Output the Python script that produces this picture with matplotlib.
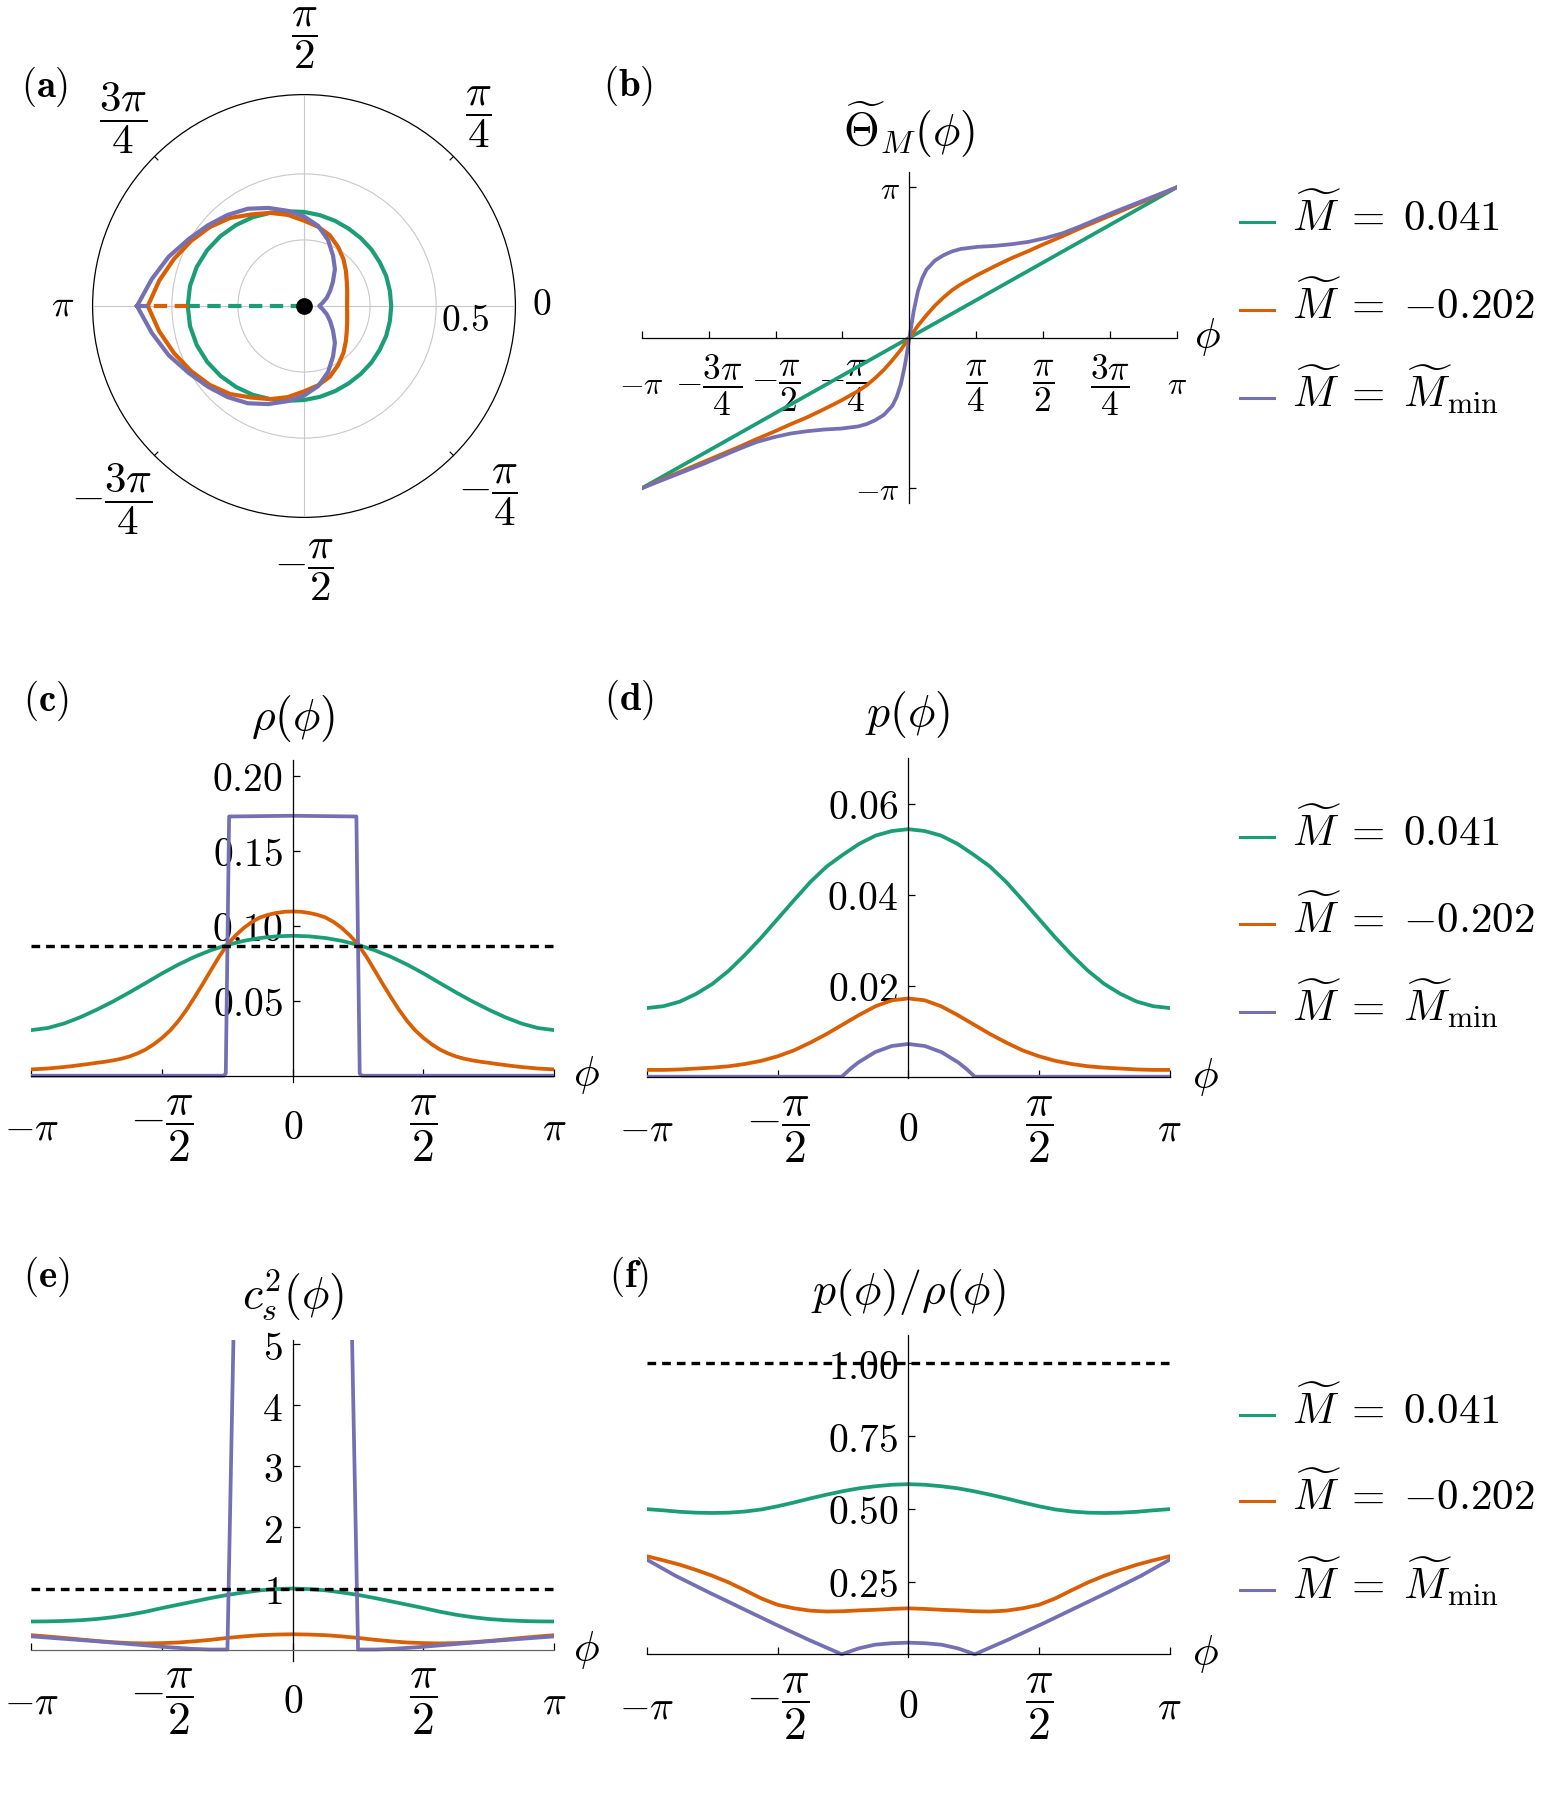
import numpy as np
import matplotlib
matplotlib.use('Agg')
import matplotlib.pyplot as plt
from matplotlib.lines import Line2D
from matplotlib.patches import Circle

plt.rcParams['mathtext.fontset'] = 'cm'
plt.rcParams['axes.unicode_minus'] = False

W, H = 1550, 1803
GREEN, ORANGE, PURPLE = '#1b9e77', '#d95f02', '#7570b3'
colors = [GREEN, ORANGE, PURPLE]
legend_labels = [r'$\widetilde{M}\;=\;0.041$', r'$\widetilde{M}\;=\;{-}0.202$',
                 r'$\widetilde{M}\;=\;\widetilde{M}_{\mathrm{min}}$']

# (a) polar curves r(theta), theta 0..180 deg (mirror symmetric)
theta_deg = np.arange(0, 181, 10)
r_green = [0.330, 0.330, 0.331, 0.331, 0.333, 0.335, 0.338, 0.343, 0.349, 0.356,
           0.364, 0.375, 0.388, 0.400, 0.412, 0.423, 0.432, 0.438, 0.440]
r_orange = [0.163, 0.166, 0.174, 0.187, 0.207, 0.232, 0.258, 0.285, 0.305, 0.323,
            0.350, 0.375, 0.400, 0.435, 0.465, 0.493, 0.523, 0.556, 0.591]
r_purple = [0.058, 0.072, 0.092, 0.114, 0.143, 0.182, 0.220, 0.266, 0.308, 0.339,
            0.366, 0.395, 0.425, 0.450, 0.475, 0.505, 0.545, 0.585, 0.632]
polar_labels = [r'$\dfrac{\pi}{2}$', r'$\dfrac{3\pi}{4}$', r'$\dfrac{\pi}{4}$', r'$\pi$', r'$0$',
                r'$-\dfrac{3\pi}{4}$', r'$-\dfrac{\pi}{4}$', r'$-\dfrac{\pi}{2}$']

# (b) Theta_M(phi), odd in phi
phi_b = [0, 0.05, 0.1, 0.15, 0.2, 0.3, 0.4, 0.5, 0.6, 0.8, 1.0, 1.2, 1.4, 1.6,
         1.8, 2.0, 2.2, 2.4, 2.6, 2.8, 3.0, np.pi]
th_green = [0, 0.05, 0.1, 0.15, 0.2, 0.3, 0.4, 0.5, 0.6, 0.8, 1.0, 1.2, 1.4, 1.6,
            1.8, 2.0, 2.2, 2.4, 2.6, 2.8, 3.0, np.pi]
th_orange = [0, 0.125, 0.25, 0.36, 0.47, 0.67, 0.84, 0.99, 1.11, 1.31, 1.49, 1.66,
             1.81, 1.97, 2.12, 2.28, 2.43, 2.58, 2.73, 2.88, 3.03, np.pi]
th_purple = [0, 0.55, 0.97, 1.24, 1.42, 1.61, 1.72, 1.80, 1.85, 1.895, 1.915, 1.95,
             2.00, 2.08, 2.18, 2.32, 2.47, 2.62, 2.76, 2.90, 3.04, np.pi]

# (c)-(f): even functions sampled at k*pi/16 (or k*pi/32)
phi16 = np.arange(17) * np.pi / 16
phi32 = np.arange(33) * np.pi / 32
rho_green = [0.0933, 0.0929, 0.0918, 0.0899, 0.0872, 0.0837, 0.0793, 0.0741, 0.0682,
             0.0618, 0.0555, 0.0495, 0.0440, 0.0390, 0.0348, 0.0318, 0.0304]
rho_orange = [0.1095, 0.1093, 0.1085, 0.1073, 0.1055, 0.1025, 0.0985, 0.0935, 0.0875,
              0.0795, 0.0705, 0.0613, 0.0525, 0.0440, 0.0365, 0.0302, 0.0252, 0.0210,
              0.0175, 0.0149, 0.0128, 0.0113, 0.0102, 0.0093, 0.0086, 0.0078, 0.0071,
              0.0064, 0.0058, 0.0053, 0.0048, 0.0045, 0.0042]
phi_rho_purple = [0, 0.765, 0.785, 0.805, 0.83, np.pi]
rho_purple = [0.1733, 0.1728, 0.0867, 0.0015, 0.0, 0.0]
rho_ref = 0.0867

p_green = [0.0544, 0.0540, 0.0530, 0.0512, 0.0488, 0.0462, 0.0428, 0.0388, 0.0347,
           0.0306, 0.0268, 0.0233, 0.0204, 0.0182, 0.0165, 0.0155, 0.0151]
p_orange = [0.0172, 0.0168, 0.0155, 0.0136, 0.0115, 0.0094, 0.0075, 0.0058, 0.0045,
            0.0035, 0.0028, 0.0023, 0.0020, 0.0018, 0.0016, 0.0015, 0.0015]
phi_p_purple = [0, 0.2, 0.4, 0.6, 0.7, 0.8, np.pi]
p_purple = [0.0072, 0.00675, 0.0054, 0.00315, 0.0017, 0.0, 0.0]

cs_green = [1.0, 0.99, 0.97, 0.935, 0.895, 0.845, 0.79, 0.735, 0.68, 0.62, 0.57,
            0.53, 0.50, 0.48, 0.468, 0.461, 0.459]
cs_orange = [0.25, 0.245, 0.235, 0.215, 0.19, 0.16, 0.135, 0.115, 0.105, 0.10, 0.105,
             0.12, 0.14, 0.165, 0.19, 0.213, 0.235]
phi_cs_purple = [0.70, 0.785, 1.0, 1.2, 1.57, 1.96, 2.36, 2.75, np.pi]
cs_purple = [6.0, 0.0, 0.0, 0.01, 0.045, 0.09, 0.135, 0.175, 0.215]
cs_ref = 1.0

w_green = [0.585, 0.583, 0.578, 0.571, 0.561, 0.549, 0.536, 0.522, 0.509, 0.498, 0.491,
           0.487, 0.486, 0.487, 0.490, 0.495, 0.499]
w_orange = [0.158, 0.156, 0.153, 0.151, 0.148, 0.147, 0.150, 0.158, 0.170, 0.192, 0.220,
            0.247, 0.270, 0.290, 0.308, 0.323, 0.337]
phi_w_purple = [0, 0.2, 0.4, 0.6, 0.8, 1.2, 1.6, 2.0, 2.4, 2.8, np.pi]
w_purple = [0.040, 0.038, 0.033, 0.020, 0.0, 0.050, 0.103, 0.158, 0.213, 0.270, 0.325]
w_ref = 1.0


def even(x, y):
    x, y = np.asarray(x, float), np.asarray(y, float)
    return np.concatenate([-x[::-1], x[1:]]), np.concatenate([y[::-1], y[1:]])


def odd(x, y):
    x, y = np.asarray(x, float), np.asarray(y, float)
    return np.concatenate([-x[::-1], x[1:]]), np.concatenate([-y[::-1], y[1:]])


fig = plt.figure(figsize=(W / 100, H / 100), dpi=100)


def px_box(l, t, r, b):
    return [l / W, 1 - b / H, (r - l) / W, (b - t) / H]


def ftext(x, y, s, **kw):
    fig.text(x / W, 1 - y / H, s, **kw)


LW = 2.7
TICKFS = 28.5
FRACFS = 33

# ---------------- (a) polar ----------------
ax = fig.add_axes(px_box(92.6, 94.6, 515.4, 517.4))
ax.set_xlim(-0.8, 0.8)
ax.set_ylim(-0.8, 0.8)
ax.axis('off')
for rr in [0.25, 0.5]:
    ax.add_patch(Circle((0, 0), rr, fill=False, ec='#c8c8c8', lw=0.8))
ax.add_patch(Circle((0, 0), 0.8, fill=False, ec='black', lw=0.9, clip_on=False))
ax.plot([-0.8, 0.8], [0, 0], color='#c8c8c8', lw=0.8)
ax.plot([0, 0], [-0.8, 0.8], color='#c8c8c8', lw=0.8)
for ang in np.deg2rad([45, 135, 225, 315]):
    ax.plot([0.782 * np.cos(ang), 0.8 * np.cos(ang)],
            [0.782 * np.sin(ang), 0.8 * np.sin(ang)], color='black', lw=0.8)
th = np.deg2rad(np.concatenate([-theta_deg[::-1], theta_deg[1:]]))
for r, c in zip([r_green, r_orange, r_purple], colors):
    rr = np.concatenate([np.asarray(r)[::-1], np.asarray(r)[1:]])
    ax.plot(rr * np.cos(th), rr * np.sin(th), color=c, lw=3.0, zorder=3,
            solid_joinstyle='round')
# dashed radial segments along theta = pi
ends = [0, r_green[-1], r_orange[-1], r_purple[-1]]
for i, c in enumerate(colors):
    ax.plot([-ends[i], -ends[i + 1]], [0, 0], color=c, lw=3.0, ls=(0, (3.2, 1.8)), zorder=3)
ax.plot(0, 0, 'o', color='black', ms=11, zorder=5)
polar_pos = [(0, 1.014), (-0.683, 0.711), (0.658, 0.715), (-0.912, 0), (0.900, 0.004),
             (-0.726, -0.730), (0.696, -0.715), (0, -0.999)]
for (x, y), s in zip(polar_pos, polar_labels):
    ax.text(x, y, s, fontsize=31 if 'frac' in s else 27, ha='center', va='center',
            clip_on=False)
ax.text(0.609, -0.057, r'$0.5$', fontsize=27, ha='center', va='center')


def style(ax, ylim, yticks, ylabels, xticks, xlabels, fs, ffs, xpad):
    ax.set_xlim(-np.pi, np.pi)
    ax.set_ylim(*ylim)
    ax.patch.set_alpha(0)
    for s in ['top', 'right']:
        ax.spines[s].set_visible(False)
    ax.spines['left'].set_position(('data', 0))
    ax.spines['bottom'].set_position(('data', 0))
    for s in ['left', 'bottom']:
        ax.spines[s].set_linewidth(0.9)
    ax.set_xticks(xticks, xlabels)
    ax.set_yticks(yticks, ylabels)
    ax.tick_params(axis='both', direction='in', length=5, width=0.9, labelsize=fs)
    ax.tick_params(axis='x', pad=xpad)
    ax.tick_params(axis='y', pad=7)
    for t in ax.get_xticklabels():
        t.set_verticalalignment('center')
        if 'frac' in t.get_text():
            t.set_fontsize(ffs)


def legend(rows):
    for y, c, s in zip(rows, colors, legend_labels):
        fig.add_artist(Line2D([1240 / W, 1274 / W], [1 - y / H] * 2, color=c, lw=2.2,
                              transform=fig.transFigure))
        ftext(1292, y + 9, s, fontsize=31, ha='left', va='baseline')


half_ticks = [-np.pi, -np.pi / 2, 0, np.pi / 2, np.pi]
half_labels = [r'$-\pi$', r'$-\dfrac{\pi}{2}$', r'$0$', r'$\dfrac{\pi}{2}$', r'$\pi$']

# ---------------- (b) ----------------
ax = fig.add_axes(px_box(641.6, 172.0, 1177.2, 503.4))
qt = [k * np.pi / 4 for k in [-4, -3, -2, -1, 1, 2, 3, 4]]
ql = [r'$-\pi$', r'$-\dfrac{3\pi}{4}$', r'$-\dfrac{\pi}{2}$', r'$-\dfrac{\pi}{4}$',
      r'$\dfrac{\pi}{4}$', r'$\dfrac{\pi}{2}$', r'$\dfrac{3\pi}{4}$', r'$\pi$']
style(ax, (-1.1 * np.pi, 1.1 * np.pi), [-np.pi, np.pi], [r'$-\pi$', r'$\pi$'], qt, ql,
      23, 25.5, 34.5)
for th_, c in zip([th_green, th_orange, th_purple], colors):
    x, y = odd(phi_b, th_)
    ax.plot(x, y, color=c, lw=LW)
legend([222, 310, 398])

# ---------------- (c) ----------------
ax = fig.add_axes(px_box(31.4, 759.95, 554.1, 1081.7))
style(ax, (-0.004, 0.2105), [0.05, 0.10, 0.15, 0.20],
      [r'$0.05$', r'$0.10$', r'$0.15$', r'$0.20$'], half_ticks, half_labels, TICKFS, FRACFS, 38)
for x, y, c in [(phi16, rho_green, GREEN), (phi32, rho_orange, ORANGE),
                (phi_rho_purple, rho_purple, PURPLE)]:
    xx, yy = even(x, y)
    ax.plot(xx, yy, color=c, lw=LW)
ax.axhline(rho_ref, color='black', lw=2.4, ls=(0, (2.6, 1.8)), zorder=3)

# ---------------- (d) ----------------
ax = fig.add_axes(px_box(647.1, 758.2, 1169.5, 1078.1))
style(ax, (-0.0003, 0.07), [0.02, 0.04, 0.06], [r'$0.02$', r'$0.04$', r'$0.06$'],
      half_ticks, half_labels, TICKFS, FRACFS, 38)
for x, y, c in [(phi16, p_green, GREEN), (phi16, p_orange, ORANGE),
                (phi_p_purple, p_purple, PURPLE)]:
    xx, yy = even(x, y)
    ax.plot(xx, yy, color=c, lw=LW)
legend([837, 924, 1012])

# ---------------- (e) ----------------
ax = fig.add_axes(px_box(31.4, 1339.6, 554.1, 1661.1))
style(ax, (-0.19, 5.08), [1, 2, 3, 4, 5], [r'$1$', r'$2$', r'$3$', r'$4$', r'$5$'],
      half_ticks, half_labels, TICKFS, FRACFS, 38)
ax.spines['bottom'].set_color('#666666')
for x, y, c in [(phi16, cs_green, GREEN), (phi16, cs_orange, ORANGE)]:
    xx, yy = even(x, y)
    ax.plot(xx, yy, color=c, lw=LW)
px = np.asarray(phi_cs_purple)
ax.plot(px, cs_purple, color=PURPLE, lw=LW)
ax.plot(-px, cs_purple, color=PURPLE, lw=LW)
ax.axhline(cs_ref, color='black', lw=2.4, ls=(0, (2.6, 1.8)), zorder=3)

# ---------------- (f) ----------------
ax = fig.add_axes(px_box(647.1, 1335.0, 1169.5, 1656.6))
style(ax, (-0.008, 1.098), [0.25, 0.5, 0.75, 1.0],
      [r'$0.25$', r'$0.50$', r'$0.75$', r'$1.00$'], half_ticks, half_labels, TICKFS, FRACFS, 38)
for x, y, c in [(phi16, w_green, GREEN), (phi16, w_orange, ORANGE),
                (phi_w_purple, w_purple, PURPLE)]:
    xx, yy = even(x, y)
    ax.plot(xx, yy, color=c, lw=LW)
ax.axhline(w_ref, color='black', lw=2.4, ls=(0, (2.6, 1.8)), zorder=3)
legend([1415, 1501, 1590])

# titles, panel letters, axis labels
titles = [(909, 130, r'$\widetilde{\Theta}_M(\phi)$'), (293, 719, r'$\rho(\phi)$'),
          (908, 714, r'$p(\phi)$'), (293, 1295, r'$c_s^2(\phi)$'),
          (908, 1292, r'$p(\phi)/\rho(\phi)$')]
for x, y, s in titles:
    ftext(x, y, s, fontsize=33, ha='center', va='center')
letters = [(45, 87, 'a'), (628, 86, 'b'), (46, 701, 'c'), (629, 700, 'd'),
           (46, 1277, 'e'), (629, 1277, 'f')]
for x, y, s in letters:
    ftext(x, y, r'$\mathbf{(%s)}$' % s, fontsize=28, ha='center', va='center')
for x, y in [(1207, 337), (586, 1075), (1205, 1077), (586, 1650), (1205, 1654)]:
    ftext(x, y, r'$\phi$', fontsize=31, ha='center', va='center')

fig.savefig('out.png', dpi=100)
